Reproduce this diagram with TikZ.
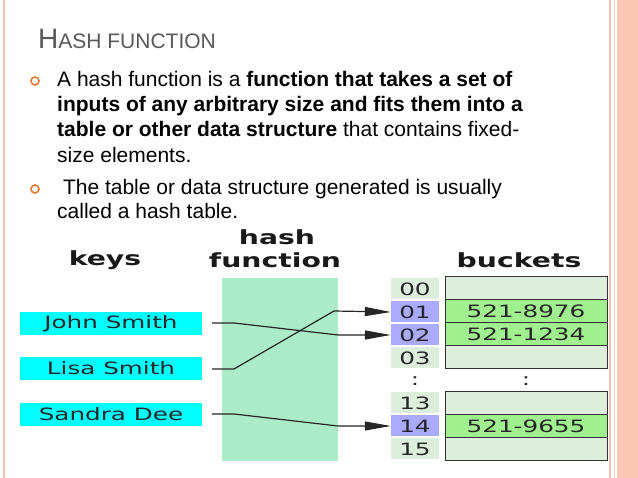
\documentclass[tikz,border=0pt]{standalone}
\usepackage{fontspec}
\setmainfont{Liberation Sans}
\newfontfamily\dv{DejaVu Sans}
\usetikzlibrary{arrows.meta}
\definecolor{peach}{HTML}{FCC6B4}
\definecolor{peachline}{HTML}{F2C2B0}
\definecolor{titlegray}{HTML}{595959}
\definecolor{ringor}{HTML}{E8762D}
\definecolor{hashgreen}{HTML}{AAEBC9}
\definecolor{keycyan}{HTML}{00FFFF}
\definecolor{idxlight}{HTML}{DDEEDD}
\definecolor{idxblue}{HTML}{AAAAFF}
\definecolor{fullgreen}{HTML}{A0F090}
\tikzset{
  line/.style={anchor=base west,inner sep=0pt,font=\fontsize{21}{24}\selectfont},
  ring/.style={circle,draw=ringor,line width=1.6pt,minimum size=8pt,inner sep=0pt},
  keybox/.style={fill=keycyan,minimum width=182pt,minimum height=23pt,inner sep=0pt,font=\dv\fontsize{17}{19}\selectfont,text=black!85},
  idx/.style={minimum width=48pt,minimum height=21pt,inner sep=0pt,font=\dv\fontsize{17}{19}\selectfont,text=black!85},
  bucket/.style={draw=black!80,line width=1pt,minimum width=162pt,minimum height=23pt,inner sep=0pt,font=\dv\fontsize{17}{19}\selectfont,text=black!85},
  head/.style={inner sep=0pt,font=\dv\bfseries\fontsize{19.5}{22}\selectfont,text=black!90,xscale=1.45},
  conn/.style={line width=1.2pt,black!85},
  arr/.style={conn,-{Triangle[length=26pt,width=9pt]}}
}
\begin{document}
\begin{tikzpicture}[x=1pt,y=-1pt]
\useasboundingbox (0,0) rectangle (638,478);
\fill[white] (0,0) rectangle (638,478);
% frame
\draw[peachline,line width=1.5pt] (4,0) -- (4,478);
\fill[peach] (617,0) rectangle (638,478);
\draw[peachline,line width=1.2pt] (610,0) -- (610,478);
\draw[peachline!80,line width=1pt] (614,0) -- (614,478);
% title
\node[anchor=base west,inner sep=0pt,text=titlegray] (title) at (38,49) {\fontsize{28}{30}\selectfont H\fontsize{21}{23}\selectfont ASH FUNCTION};
% bullets
\node[ring] (r1) at (35,81) {};
\node[line] (l1) at (57,87) {A hash function is a \textbf{function that takes a set of}};
\node[line] (l2) at (57,112) {\textbf{inputs of any arbitrary size and fits them into a}};
\node[line] (l3) at (57,137) {\textbf{table or other data structure} that contains fixed-};
\node[line] (l4) at (57,163) {size elements.};
\node[ring] (r2) at (35,189) {};
\node[line] (l5) at (57,195) {\ The table or data structure generated is usually};
\node[line] (l6) at (57,219) {called a hash table.};
% headers
\node[head] (hh) at (277,237) {hash};
\node[head] (hf) at (275,260) {function};
\node[head] (hk) at (105,260) {keys};
\node[head] (hb) at (519,260) {buckets};
% hash function box
\fill[hashgreen] (222,278) rectangle (338,461);
% keys
\node[keybox] (john) at (111,323.5) {\scalebox{1.45}[1]{John Smith}};
\node[keybox] (lisa) at (111,368.5) {\scalebox{1.45}[1]{Lisa Smith}};
\node[keybox] (sandra) at (111,414.5) {\scalebox{1.45}[1]{Sandra Dee}};
% index boxes
\node[idx,fill=idxlight] (i00) at (415,289) {\scalebox{1.45}[1]{00}};
\node[idx,fill=idxblue] (i01) at (415,312) {\scalebox{1.45}[1]{01}};
\node[idx,fill=idxblue] (i02) at (415,335) {\scalebox{1.45}[1]{02}};
\node[idx,fill=idxlight] (i03) at (415,358) {\scalebox{1.45}[1]{03}};
\node[idx] (idots) at (415,381) {\scalebox{1.45}[1]{:}};
\node[idx,fill=idxlight] (i13) at (415,403) {\scalebox{1.45}[1]{13}};
\node[idx,fill=idxblue] (i14) at (415,426) {\scalebox{1.45}[1]{14}};
\node[idx,fill=idxlight] (i15) at (415,449) {\scalebox{1.45}[1]{15}};
% buckets
\node[bucket,fill=idxlight] (b00) at (526,288.5) {};
\node[bucket,fill=fullgreen] (b01) at (526,311.5) {\scalebox{1.45}[1]{521-8976}};
\node[bucket,fill=fullgreen] (b02) at (526,334.5) {\scalebox{1.45}[1]{521-1234}};
\node[bucket,fill=idxlight] (b03) at (526,357.5) {};
\node[idx] (bdots) at (526,381) {\scalebox{1.45}[1]{:}};
\node[bucket,fill=idxlight] (b13) at (526,403) {};
\node[bucket,fill=fullgreen] (b14) at (526,426) {\scalebox{1.45}[1]{521-9655}};
\node[bucket,fill=idxlight] (b15) at (526,449) {};
% connectors
\coordinate (jo) at (212,323);
\coordinate (li) at (212,369);
\coordinate (sa) at (212,414);
\draw[arr] (jo) -- (234,323) -- (338,335) -- (i02.west);
\draw[arr] (li) -- (234,369) -- (334,311) -- (i01.west);
\draw[arr] (sa) -- (234,414) -- (338,426) -- (i14.west);
\end{tikzpicture}
\end{document}
